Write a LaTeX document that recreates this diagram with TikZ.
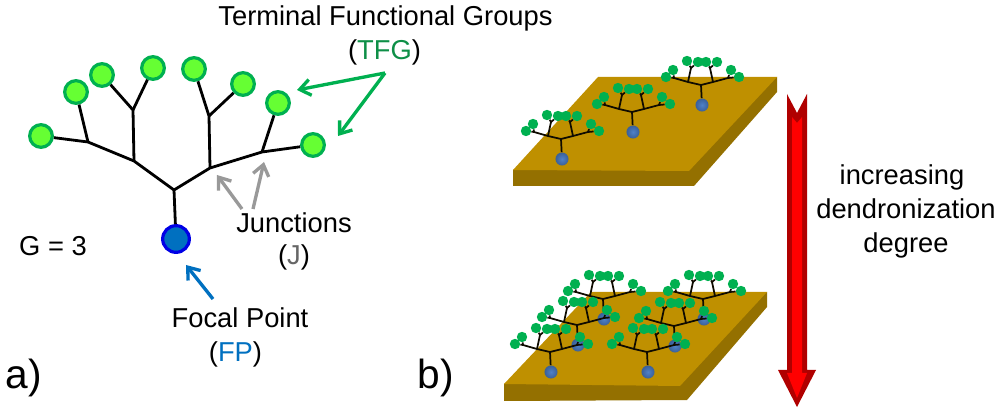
\documentclass[tikz,border=0pt]{standalone}
\usepackage{fontspec}
\setmainfont{Liberation Sans}
\usetikzlibrary{arrows.meta}
\definecolor{tfg}{HTML}{0E8F47}
\definecolor{leaf}{HTML}{66FF33}
\definecolor{leafb}{HTML}{00B050}
\definecolor{sml}{HTML}{00B050}
\definecolor{fpc}{HTML}{0070C0}
\definecolor{fpb}{HTML}{0000E6}
\definecolor{sfp}{HTML}{3A6098}
\definecolor{sfpi}{HTML}{4F81C8}
\definecolor{jgray}{HTML}{999999}
\definecolor{jtxt}{HTML}{666666}
\definecolor{slabt}{HTML}{BF9000}
\definecolor{slabs}{HTML}{947000}
\definecolor{arrd}{HTML}{B00000}
\tikzset{
  x=0.75pt,y=-0.75pt,
  txt/.style={font=\fontsize{20.5pt}{24pt}\selectfont,inner sep=0pt,text=black,anchor=base},
  lab/.style={font=\fontsize{30.5pt}{34pt}\selectfont,inner sep=0pt,text=black,anchor=base},
  bigleaf/.style={circle,draw=leafb,fill=leaf,line width=2.4pt,minimum size=17pt,inner sep=0pt},
  bigfp/.style={circle,draw=fpb,fill=fpc,line width=2.4pt,minimum size=20pt,inner sep=0pt},
  jn/.style={coordinate},
  bond/.style={draw=black,line width=2.1pt},
  sbond/.style={draw=black!90!slabs,line width=1.3pt},
  sleaf/.style={circle,fill=sml,minimum size=7.8pt,inner sep=0pt},
  sfpn/.style={circle,inner color=sfpi,outer color=sfp,minimum size=9.8pt,inner sep=0pt},
  tgarrow/.style={draw=leafb,line width=2.5pt,-{Straight Barb[length=8pt,width=12pt,line width=2.5pt]}},
  jarrow/.style={draw=jgray,line width=2.5pt,-{Straight Barb[length=8pt,width=12pt,line width=2.5pt]}},
  fparrow/.style={draw=fpc,line width=2.5pt,-{Straight Barb[length=8pt,width=12pt,line width=2.5pt]}},
  dend/.pic={
    \coordinate (r) at (0,0);
    \node[sfpn] (fp) at (1,20) {};
    \coordinate (a) at (-13,-3);
    \coordinate (b) at (-27,-7);
    \coordinate (c) at (-10,-17);
    \coordinate (d) at (12,-3);
    \coordinate (e) at (27,-7);
    \coordinate (f) at (9,-17);
    \draw[sbond] (fp) -- (r) -- (a) -- (b);
    \draw[sbond] (a) -- (c);
    \draw[sbond] (r) -- (d) -- (e);
    \draw[sbond] (d) -- (f);
    \node[sleaf] (l1) at (-35,-8) {};
    \node[sleaf] (l2) at (-28,-15) {};
    \node[sleaf] (l3) at (-14,-24) {};
    \node[sleaf] (l4) at (-3,-23) {};
    \node[sleaf] (l5) at (5,-23) {};
    \node[sleaf] (l6) at (16,-23) {};
    \node[sleaf] (l7) at (30,-15) {};
    \node[sleaf] (l8) at (38,-8) {};
    \draw[sbond] (b) -- (l1);
    \draw[sbond] (b) -- (l2);
    \draw[sbond] (c) -- (l3);
    \draw[sbond] (c) -- (l4);
    \draw[sbond] (f) -- (l5);
    \draw[sbond] (f) -- (l6);
    \draw[sbond] (e) -- (l7);
    \draw[sbond] (e) -- (l8);
  }
}
\begin{document}
\begin{tikzpicture}
\useasboundingbox (0,0) rectangle (1000,413);
% big dendron
\node[bigleaf] (n1) at (41,136) {};
\node[bigleaf] (n2) at (76,92) {};
\node[bigleaf] (n3) at (102,75) {};
\node[bigleaf] (n4) at (153,68) {};
\node[bigleaf] (n5) at (194,69) {};
\node[bigleaf] (n6) at (243,84) {};
\node[bigleaf] (n7) at (278,103) {};
\node[bigleaf] (n8) at (313,145) {};
\node[bigfp] (fp) at (176,239) {};
\node[jn] (r) at (174,190) {};
\node[jn] (j1) at (134,161) {};
\node[jn] (j2) at (88,142) {};
\node[jn] (j3) at (133,110) {};
\node[jn] (j4) at (210,168) {};
\node[jn] (j5) at (262,152) {};
\node[jn] (j6) at (209,116) {};
\draw[bond] (fp) -- (r);
\draw[bond] (r) -- (j1) -- (j2) -- (n1);
\draw[bond] (j2) -- (n2);
\draw[bond] (j1) -- (j3) -- (n3);
\draw[bond] (j3) -- (n4);
\draw[bond] (r) -- (j4) -- (j5) -- (n8);
\draw[bond] (j5) -- (n7);
\draw[bond] (j4) -- (j6) -- (n5);
\draw[bond] (j6) -- (n6);
% labels
\node[txt] (tfgt) at (385.5,26) {Terminal Functional Groups};
\node[txt] (tfgs) at (384.5,60) {(\textcolor{tfg}{TFG})};
\coordinate (tfgo) at (385,73);
\coordinate (tfga) at (297,90);
\coordinate (tfgb) at (338,136);
\draw[tgarrow] (tfgo) -- (tfga);
\draw[tgarrow] (tfgo) -- (tfgb);
\node[txt] (jt) at (294,233) {Junctions};
\node[txt] (js) at (294,265) {(\textcolor{jtxt}{J})};
\coordinate (ja) at (217,175);
\coordinate (jb) at (264,162);
\coordinate (jo1) at (242,209);
\coordinate (jo2) at (253,209);
\draw[jarrow] (jo1) -- (ja);
\draw[jarrow] (jo2) -- (jb);
\node[txt] (g) at (53,256) {G = 3};
\node[txt] (fpt) at (240,328) {Focal Point};
\node[txt] (fps) at (235.5,362) {(\textcolor{fpc}{FP})};
\coordinate (fpo) at (213,299);
\coordinate (fpa) at (186,265);
\draw[fparrow] (fpo) -- (fpa);
\node[lab] (la) at (23.5,388) {a)};
\node[lab] (lb) at (435.5,388) {b)};
% top slab
\fill[slabs] (513,170) -- (513,186) -- (694,186) -- (777,92) -- (777,77) -- cycle;
\fill[slabt] (598,77) -- (777,77) -- (689,171) -- (513,170) -- cycle;
\pic (t3) at (701,85) {dend};
\pic (t2) at (632,112) {dend};
\pic (t1) at (561,139) {dend};
% bottom slab
\fill[slabs] (504,384) -- (504,401) -- (687,400) -- (767,307) -- (767,292) -- cycle;
\fill[slabt] (591,292) -- (767,292) -- (680,386) -- (504,384) -- cycle;
\pic (b6) at (703,299) {dend};
\pic (b5) at (603,299) {dend};
\pic (b4) at (674,326) {dend};
\pic (b3) at (577,325) {dend};
\pic (b2) at (647,352) {dend};
\pic (b1) at (550,352) {dend};
% red arrow
\fill[arrd] (787,94) -- (797,113) -- (807,94) -- (807,370) -- (816,370) -- (797,407) -- (778,370) -- (787,370) -- cycle;
\fill[red] (792,117) -- (797,123) -- (802,117) -- (802,373) -- (807,373) -- (797,398) -- (787,373) -- (792,373) -- cycle;
\node[txt] (i1) at (902,185) {increasing};
\node[txt] (i2) at (906,219) {dendronization};
\node[txt] (i3) at (906,253) {degree};
\end{tikzpicture}
\end{document}
